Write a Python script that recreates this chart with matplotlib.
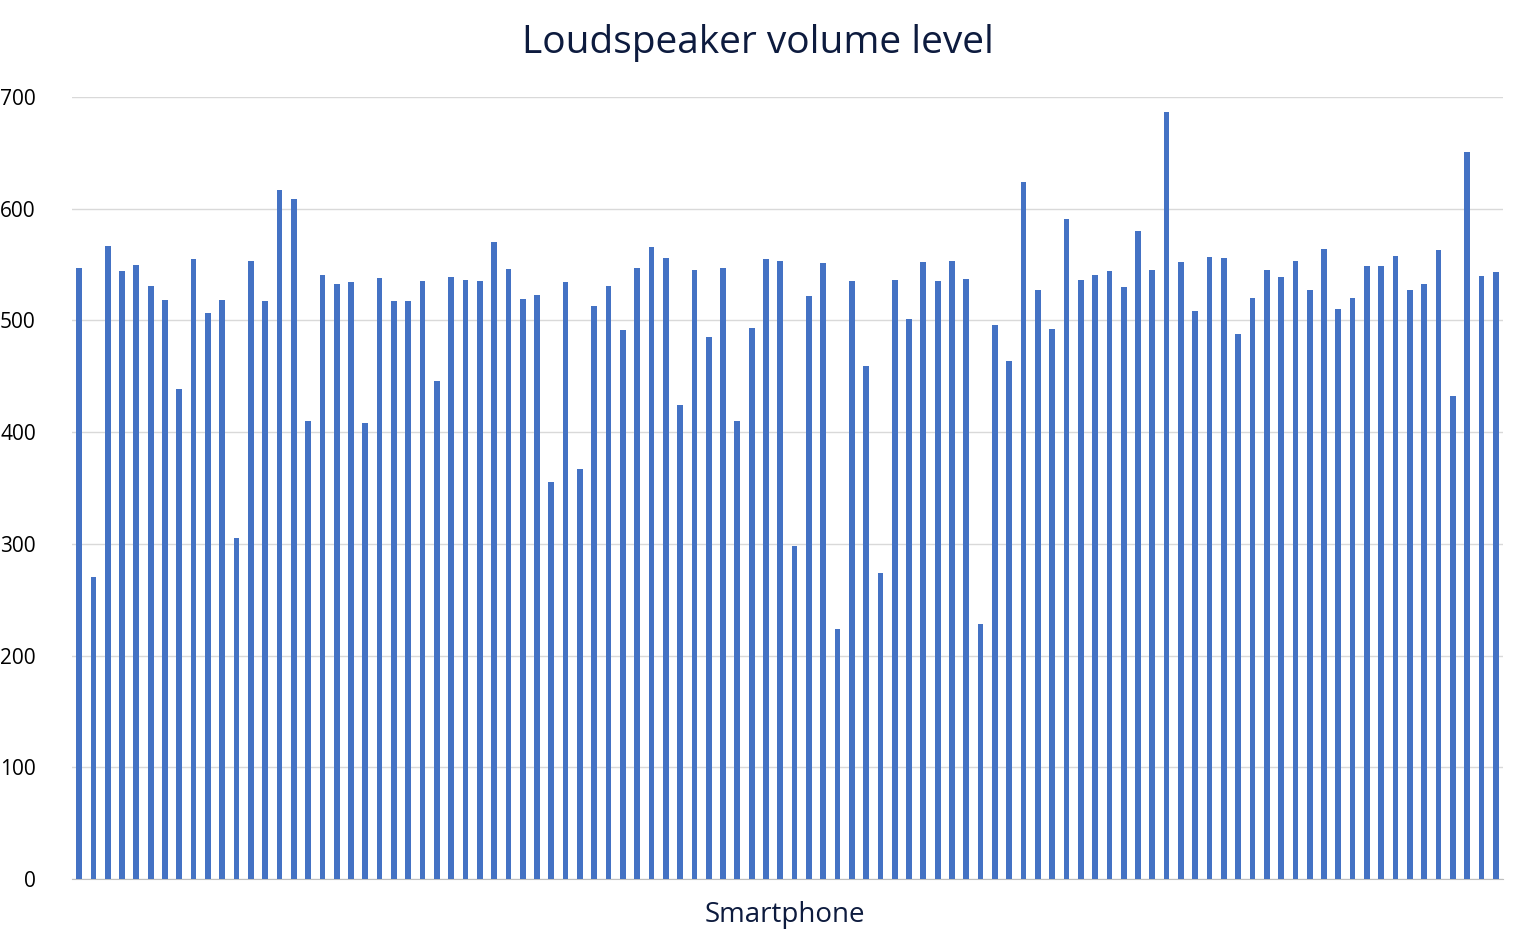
import matplotlib
matplotlib.use('Agg')
import matplotlib.pyplot as plt

# Loudspeaker volume level per smartphone
volumes = [547, 270, 567, 544, 550, 531, 518, 439, 555, 507,
           518, 305, 553, 517, 617, 609, 410, 541, 533, 534,
           408, 538, 517, 517, 535, 446, 539, 536, 535, 570,
           546, 519, 523, 355, 534, 367, 513, 531, 491, 547,
           566, 556, 424, 545, 485, 547, 410, 493, 555, 553,
           298, 522, 551, 224, 535, 459, 274, 536, 501, 552,
           535, 553, 537, 228, 496, 464, 624, 527, 492, 591,
           536, 541, 544, 530, 580, 545, 687, 552, 508, 557,
           556, 488, 520, 545, 539, 553, 527, 564, 510, 520,
           549, 549, 558, 527, 533, 563, 432, 651, 540, 543]
phones = list(range(1, len(volumes) + 1))

plt.rcParams['font.family'] = ['Open Sans', 'DejaVu Sans']

fig = plt.figure(figsize=(15.15, 9.51), dpi=100)
ax = fig.add_axes([0.0475, 0.0757, 0.9445, 0.8223])
ax.bar(phones, volumes, width=0.4, color='#4472C4', zorder=3)

ax.set_xlim(0.5, len(volumes) + 0.5)
ax.set_ylim(0, 700)
ax.set_yticks(range(0, 701, 100))
ax.set_xticks([])
ax.tick_params(axis='y', length=0, labelsize=15, pad=26)
ax.grid(axis='y', color='#D9D9D9', linewidth=1, zorder=0)
for s in ['top', 'right', 'left']:
    ax.spines[s].set_visible(False)
ax.spines['bottom'].set_color('#BFBFBF')

fig.text(0.518, 0.038, 'Smartphone', fontsize=20, color='#0D1B3E',
         ha='center', va='center')
fig.text(0.5, 0.955, 'Loudspeaker volume level', fontsize=28, color='#0D1B3E',
         ha='center', va='center')

fig.savefig('out.png', dpi=100)
